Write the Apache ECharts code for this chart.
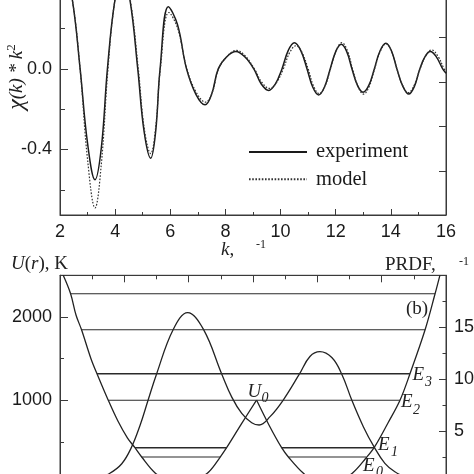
<!DOCTYPE html>
<html>
<head>
<meta charset="utf-8">
<script src="https://cdn.jsdelivr.net/npm/echarts@6.0.0/dist/echarts.min.js"></script>
<style>
html,body{margin:0;padding:0;background:#fff;overflow:hidden;}
#c{width:474px;height:474px;}
</style>
</head>
<body>
<div id="c"></div>
<script>
// ---- Panel (a): EXAFS chi(k)*k^2 ----
const kExp = [2.0, 2.19, 2.45, 2.73, 3.0, 3.27, 3.5, 3.72, 3.99, 4.26, 4.54, 4.82, 5.05, 5.29, 5.47, 5.63, 5.93, 6.26, 6.59, 6.93, 7.26, 7.5, 7.74, 8.05, 8.38, 8.7, 9.03, 9.3, 9.57, 9.81, 10.05, 10.28, 10.5, 10.73, 10.96, 11.17, 11.38, 11.59, 11.8, 12.0, 12.2, 12.4, 12.59, 12.79, 12.99, 13.2, 13.4, 13.61, 13.82, 14.02, 14.22, 14.44, 14.65, 14.85, 15.05, 15.24, 15.43, 15.65, 15.88, 16.0];
const chiExp = [0.43, 0.47, 0.34, 0.0, -0.37, -0.55, -0.39, 0.0, 0.34, 0.48, 0.34, 0.0, -0.31, -0.443, -0.31, 0.0, 0.309, 0.22, 0.0, -0.126, -0.178, -0.126, 0.0, 0.06, 0.086, 0.06, 0.0, -0.075, -0.107, -0.075, 0.0, 0.092, 0.13, 0.092, 0.0, -0.091, -0.129, -0.091, 0.0, 0.086, 0.122, 0.086, 0.0, -0.082, -0.116, -0.082, 0.0, 0.09, 0.127, 0.09, 0.0, -0.088, -0.125, -0.088, 0.0, 0.061, 0.086, 0.06, 0.0, -0.021];
const kMod = [2.0, 2.19, 2.45, 2.73, 3.0, 3.27, 3.5, 3.74, 3.99, 4.26, 4.55, 4.84, 5.06, 5.29, 5.47, 5.64, 5.95, 6.27, 6.6, 6.95, 7.28, 7.52, 7.75, 8.07, 8.4, 8.72, 9.05, 9.33, 9.6, 9.85, 10.1, 10.33, 10.56, 10.78, 11.0, 11.2, 11.4, 11.61, 11.81, 12.02, 12.22, 12.42, 12.61, 12.81, 13.01, 13.21, 13.41, 13.62, 13.82, 14.02, 14.22, 14.43, 14.63, 14.84, 15.06, 15.27, 15.48, 15.72, 15.93, 16.0];
const chiMod = [0.43, 0.47, 0.34, 0.0, -0.45, -0.69, -0.47, 0.0, 0.34, 0.48, 0.34, 0.0, -0.30, -0.42, -0.29, 0.0, 0.28, 0.2, 0.0, -0.118, -0.165, -0.118, 0.0, 0.064, 0.092, 0.064, 0.0, -0.068, -0.097, -0.068, 0.0, 0.081, 0.115, 0.081, 0.0, -0.086, -0.122, -0.086, 0.0, 0.092, 0.13, 0.092, 0.0, -0.088, -0.125, -0.088, 0.0, 0.088, 0.125, 0.088, 0.0, -0.083, -0.118, -0.083, 0.0, 0.066, 0.094, 0.06, 0.0, -0.012];
const kTicks = [2, 4, 6, 8, 10, 12, 14, 16];
const chiLabelTicks = [-0.4, 0.0, 0.4];
const chiMinorTicks = [-0.6, -0.2, 0.2];
const chiRightTicks = [0.155, -0.066, -0.286, -0.506];

// ---- Panel (b): potential U(r), energy levels, PRDF ----
const uLeftR = [0.10, 0.33, 0.50, 0.67, 0.96, 1.15, 1.50, 1.80, 2.10, 2.33, 2.54, 2.95, 3.35, 3.78, 4.22, 4.63, 4.98, 5.18, 5.65, 6.11];
const uLeftU = [2500, 2278, 2020, 1846, 1502, 1318, 1000, 750, 545, 430, 318, 130, 35, 0, 38, 142, 318, 430, 722, 1002];
const uRightR = [6.11, 6.50, 6.89, 7.10, 7.56, 7.95, 8.32, 8.70, 9.12, 9.50, 9.78, 10.20, 10.57, 10.88, 11.35, 11.66, 11.81];
const uRightU = [1002, 700, 430, 318, 125, 28, 0, 28, 135, 300, 440, 730, 1000, 1318, 1846, 2278, 2500];
const levelU = [2278, 1846, 1318, 1000, 430, 430, 318, 318];
const levelFrom = [0.33, 0.67, 1.15, 1.50, 2.33, 6.89, 2.54, 7.10];
const levelTo = [11.66, 11.35, 10.88, 10.57, 5.18, 9.77, 4.98, 9.52];
const prdfR = [1.10, 1.55, 1.92, 2.21, 2.49, 2.74, 3.00, 3.52, 3.97, 4.46, 5.03, 5.34, 5.65, 5.96, 6.19, 6.53, 6.94, 7.44, 7.77, 8.08, 8.45, 8.76, 9.07, 9.43, 9.76, 10.10, 10.41, 10.90];
const prdfV = [0.35, 0.98, 1.9, 3.4, 5.6, 8.02, 10.5, 14.8, 16.41, 14.8, 10.5, 8.3, 6.74, 5.84, 5.62, 6.42, 8.02, 10.5, 12.2, 12.66, 12.1, 10.5, 8.02, 5.46, 3.54, 1.94, 1.13, 0.35];
const uLabelTicks = [0, 1000, 2000];
const uMinorTicks = [500, 1500];
const prdfLabelTicks = [5, 10, 15];
const prdfMinorTicks = [2.5, 7.5, 12.5, 17.5];

const zip = (a, b) => a.map((x, i) => [x, b[i]]);
const AX = '#3a3a3a';
const INK = '#1a1a1a';
const SANS = '"Liberation Sans", Arial, sans-serif';
const SERIF = '"Liberation Serif", "Times New Roman", serif';

function lbl(values, fmt) {
  return { show: true, customValues: values, margin: 8, fontSize: 18, fontFamily: SANS, color: INK, formatter: fmt };
}
function yAx(grid, pos, min, max, ticks, len, label) {
  return {
    type: 'value', gridIndex: grid, position: pos, min: min, max: max,
    axisLine: { show: true, onZero: false, lineStyle: { color: AX, width: 1 } },
    axisTick: { show: true, inside: true, length: len, customValues: ticks, lineStyle: { color: AX, width: 1 } },
    axisLabel: label || { show: false },
    splitLine: { show: false }
  };
}

const chart = echarts.init(document.getElementById('c'), null, { renderer: 'canvas' });

const levelSeries = levelU.map((u, i) => ({
  type: 'line', xAxisIndex: 1, yAxisIndex: 3, symbol: 'none', silent: true,
  data: [[levelFrom[i], u], [levelTo[i], u]],
  lineStyle: { color: '#2a2a2a', width: (u === 1318 || u === 430) ? 1.5 : 1.1 }
}));

const option = {
  animation: false,
  backgroundColor: '#fff',
  grid: [
    { left: 60, right: 28, top: -52, bottom: 259, show: true, borderColor: AX, borderWidth: 1, backgroundColor: 'transparent', containLabel: false, outerBoundsMode: 'none' },
    { left: 60, right: 28, top: 275.3, bottom: -9.5, show: true, borderColor: AX, borderWidth: 1, backgroundColor: 'transparent', containLabel: false, outerBoundsMode: 'none' }
  ],
  xAxis: [
    { type: 'value', gridIndex: 0, min: 2, max: 16, interval: 2,
      axisLine: { show: true, onZero: false, lineStyle: { color: AX } },
      axisTick: { show: true, inside: true, length: 6, lineStyle: { color: AX } },
      minorTick: { show: true, splitNumber: 2, length: 3, lineStyle: { color: AX } },
      axisLabel: lbl(kTicks, v => String(v)),
      splitLine: { show: false }, minorSplitLine: { show: false } },
    { type: 'value', gridIndex: 1, position: 'top', min: 0, max: 12, interval: 2,
      axisLine: { show: true, onZero: false, lineStyle: { color: AX } },
      axisTick: { show: true, inside: true, length: 7, lineStyle: { color: AX } },
      minorTick: { show: true, splitNumber: 2, length: 4, lineStyle: { color: AX } },
      axisLabel: { show: false },
      splitLine: { show: false }, minorSplitLine: { show: false } }
  ],
  yAxis: [
    yAx(0, 'left', -0.725, 0.6, chiLabelTicks, 8, lbl(chiLabelTicks, v => v.toFixed(1))),
    yAx(0, 'left', -0.725, 0.6, chiMinorTicks, 5, null),
    yAx(0, 'right', -0.725, 0.6, chiRightTicks, 7, null),
    yAx(1, 'left', 0, 2500, uLabelTicks, 8, lbl(uLabelTicks, v => String(v))),
    yAx(1, 'left', 0, 2500, uMinorTicks, 4, null),
    yAx(1, 'right', 0, 20, prdfLabelTicks, 7, lbl(prdfLabelTicks, v => String(v))),
    yAx(1, 'right', 0, 20, prdfMinorTicks, 3.5, null)
  ],
  legend: {
    data: ['experiment', 'model'], orient: 'vertical', left: 248, top: 141.5, padding: 0,
    itemWidth: 58, itemHeight: 14, itemGap: 6.2, selectedMode: false,
    itemStyle: { opacity: 0, borderWidth: 0, color: 'transparent' },
    textStyle: { fontFamily: SERIF, fontSize: 20.5, color: INK, lineHeight: 14, padding: [0, 0, 0, 4] }
  },
  series: [
    { name: 'experiment', type: 'line', xAxisIndex: 0, yAxisIndex: 0, symbol: 'none', smooth: 0.4, silent: true,
      data: zip(kExp, chiExp), lineStyle: { color: INK, width: 1.5 }, itemStyle: { color: INK } },
    { name: 'model', type: 'line', xAxisIndex: 0, yAxisIndex: 0, symbol: 'none', smooth: 0.4, silent: true,
      data: zip(kMod, chiMod), lineStyle: { color: '#333', width: 1.2, type: [1.6, 1.6] }, itemStyle: { color: '#333' } },
    { type: 'line', xAxisIndex: 1, yAxisIndex: 3, symbol: 'none', smooth: 0.35, silent: true,
      data: zip(uLeftR, uLeftU), lineStyle: { color: '#222', width: 1.3 } },
    { type: 'line', xAxisIndex: 1, yAxisIndex: 3, symbol: 'none', smooth: 0.35, silent: true,
      data: zip(uRightR, uRightU), lineStyle: { color: '#222', width: 1.3 } },
    { type: 'line', xAxisIndex: 1, yAxisIndex: 5, symbol: 'none', smooth: 0.4, silent: true,
      data: zip(prdfR, prdfV), lineStyle: { color: '#222', width: 1.3 } }
  ].concat(levelSeries),
  graphic: [
    { type: 'text', x: 17, y: 77, rotation: Math.PI / 2, silent: true,
      style: { text: '{c|χ}{a|(k) * k}{s|2}', align: 'center', verticalAlign: 'middle', textAlign: 'center', textVerticalAlign: 'middle', fill: '#222',
        rich: { c: { fontFamily: SERIF, fontStyle: 'italic', fontSize: 24, lineHeight: 24 },
                a: { fontFamily: SERIF, fontStyle: 'italic', fontSize: 19, lineHeight: 24 },
                s: { fontFamily: SERIF, fontSize: 13, verticalAlign: 'top', lineHeight: 14 } } } },
    { type: 'text', x: 221, y: 250, silent: true,
      style: { text: '{i|k}{n|,}', align: 'left', verticalAlign: 'middle', textAlign: 'left', textVerticalAlign: 'middle', fill: '#222',
        rich: { i: { fontFamily: SERIF, fontStyle: 'italic', fontSize: 19 }, n: { fontFamily: SERIF, fontSize: 19 } } } },
    { type: 'text', x: 256, y: 244.5, silent: true,
      style: { text: '-1', font: '12px ' + SERIF, textAlign: 'left', textVerticalAlign: 'middle', align: 'left', verticalAlign: 'middle', fill: '#222' } },
    { type: 'text', x: 11, y: 264, silent: true,
      style: { text: '{i|U}{n|(}{i|r}{n|), K}', align: 'left', verticalAlign: 'middle', textAlign: 'left', textVerticalAlign: 'middle', fill: '#222',
        rich: { i: { fontFamily: SERIF, fontStyle: 'italic', fontSize: 19 }, n: { fontFamily: SERIF, fontSize: 19 } } } },
    { type: 'text', x: 385, y: 265.5, silent: true,
      style: { text: 'PRDF,', font: '19px ' + SERIF, textAlign: 'left', textVerticalAlign: 'middle', align: 'left', verticalAlign: 'middle', fill: '#222' } },
    { type: 'text', x: 459, y: 262, silent: true,
      style: { text: '-1', font: '12px ' + SERIF, textAlign: 'left', textVerticalAlign: 'middle', align: 'left', verticalAlign: 'middle', fill: '#222' } },
    { type: 'text', x: 406, y: 309, silent: true,
      style: { text: '(b)', font: '19px ' + SERIF, textAlign: 'left', textVerticalAlign: 'middle', align: 'left', verticalAlign: 'middle', fill: '#222' } },
    { type: 'text', x: 412.5, y: 374.5, silent: true, style: { text: 'E', font: 'italic 19px ' + SERIF, textAlign: 'left', textVerticalAlign: 'middle', align: 'left', verticalAlign: 'middle', fill: '#222' } },
    { type: 'text', x: 425, y: 382, silent: true, style: { text: '3', font: 'italic 14px ' + SERIF, textAlign: 'left', textVerticalAlign: 'middle', align: 'left', verticalAlign: 'middle', fill: '#222' } },
    { type: 'text', x: 401, y: 401.5, silent: true, style: { text: 'E', font: 'italic 19px ' + SERIF, textAlign: 'left', textVerticalAlign: 'middle', align: 'left', verticalAlign: 'middle', fill: '#222' } },
    { type: 'text', x: 413, y: 410, silent: true, style: { text: '2', font: 'italic 14px ' + SERIF, textAlign: 'left', textVerticalAlign: 'middle', align: 'left', verticalAlign: 'middle', fill: '#222' } },
    { type: 'text', x: 378, y: 445, silent: true, style: { text: 'E', font: 'italic 19px ' + SERIF, textAlign: 'left', textVerticalAlign: 'middle', align: 'left', verticalAlign: 'middle', fill: '#222' } },
    { type: 'text', x: 391, y: 452, silent: true, style: { text: '1', font: 'italic 14px ' + SERIF, textAlign: 'left', textVerticalAlign: 'middle', align: 'left', verticalAlign: 'middle', fill: '#222' } },
    { type: 'text', x: 363, y: 466, silent: true, style: { text: 'E', font: 'italic 19px ' + SERIF, textAlign: 'left', textVerticalAlign: 'middle', align: 'left', verticalAlign: 'middle', fill: '#222' } },
    { type: 'text', x: 376, y: 472, silent: true, style: { text: '0', font: 'italic 14px ' + SERIF, textAlign: 'left', textVerticalAlign: 'middle', align: 'left', verticalAlign: 'middle', fill: '#222' } },
    { type: 'text', x: 247.5, y: 391.5, silent: true, style: { text: 'U', font: 'italic 19px ' + SERIF, textAlign: 'left', textVerticalAlign: 'middle', align: 'left', verticalAlign: 'middle', fill: '#222' } },
    { type: 'text', x: 261.5, y: 398.5, silent: true, style: { text: '0', font: 'italic 14px ' + SERIF, textAlign: 'left', textVerticalAlign: 'middle', align: 'left', verticalAlign: 'middle', fill: '#222' } }
  ]
};
chart.setOption(option);
</script>
</body>
</html>
